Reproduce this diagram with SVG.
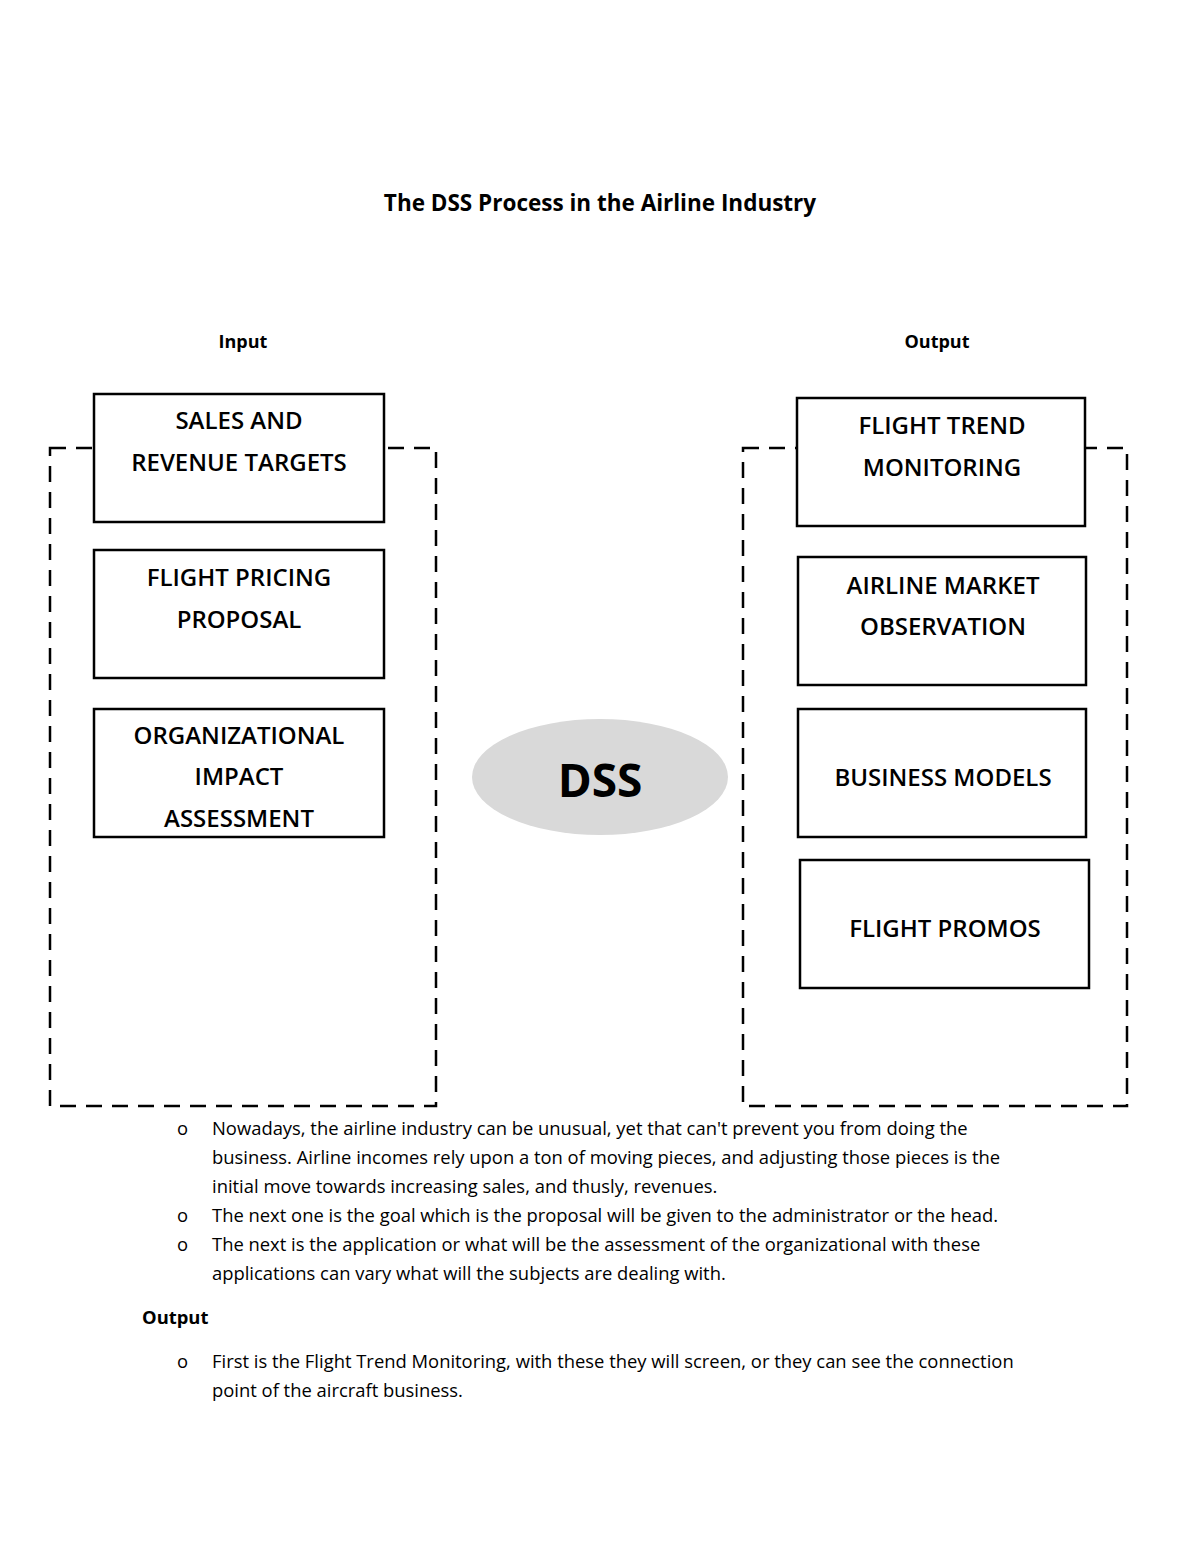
<svg xmlns="http://www.w3.org/2000/svg" width="1200" height="1553" viewBox="0 0 1200 1553">
<style>
text{font-family:"Open Sans","Liberation Sans",sans-serif;fill:#000}
.t{font-weight:bold;font-size:22.5px;text-anchor:middle}
.h{font-weight:bold;font-size:18px;text-anchor:middle}
.b{font-size:24px;font-weight:600;text-anchor:middle}
.p{font-size:18.4px}
.box{fill:#fff;stroke:#000;stroke-width:2.5}
.dash{fill:none;stroke:#000;stroke-width:2.5;stroke-dasharray:16 10}
</style>
<rect width="1200" height="1553" fill="#fff"/>
<text class="t" x="600" y="211">The DSS Process in the Airline Industry</text>
<text class="h" x="243" y="348">Input</text>
<text class="h" x="937" y="348">Output</text>
<g id="connectors">
<rect class="dash" x="50" y="448" width="386" height="658"/>
<rect class="dash" x="743" y="448" width="384" height="658"/>
</g>
<g id="n1"><rect class="box" x="94" y="394" width="290" height="128"/><text class="b" x="239" y="429">SALES AND</text><text class="b" x="239" y="471">REVENUE TARGETS</text></g>
<g id="n2"><rect class="box" x="94" y="550" width="290" height="128"/><text class="b" x="239" y="586">FLIGHT PRICING</text><text class="b" x="239" y="628">PROPOSAL</text></g>
<g id="n3"><rect class="box" x="94" y="709" width="290" height="128"/><text class="b" x="239" y="744">ORGANIZATIONAL</text><text class="b" x="239" y="785">IMPACT</text><text class="b" x="239" y="827">ASSESSMENT</text></g>
<g id="dss"><ellipse cx="600" cy="777" rx="128" ry="58" fill="#d9d9d9"/><text x="600" y="797" text-anchor="middle" font-weight="bold" font-size="46">DSS</text></g>
<g id="o1"><rect class="box" x="797" y="398" width="288" height="128"/><text class="b" x="942" y="434">FLIGHT TREND</text><text class="b" x="942" y="476">MONITORING</text></g>
<g id="o2"><rect class="box" x="798" y="557" width="288" height="128"/><text class="b" x="943" y="594">AIRLINE MARKET</text><text class="b" x="943" y="635">OBSERVATION</text></g>
<g id="o3"><rect class="box" x="798" y="709" width="288" height="128"/><text class="b" x="943" y="786">BUSINESS MODELS</text></g>
<g id="o4"><rect class="box" x="800" y="860" width="289" height="128"/><text class="b" x="945" y="937">FLIGHT PROMOS</text></g>
<g class="p">
<text class="p" x="177" y="1135">o</text>
<text class="p" x="212" y="1135">Nowadays, the airline industry can be unusual, yet that can't prevent you from doing the</text>
<text class="p" x="212" y="1164">business. Airline incomes rely upon a ton of moving pieces, and adjusting those pieces is the</text>
<text class="p" x="212" y="1193">initial move towards increasing sales, and thusly, revenues.</text>
<text class="p" x="177" y="1222">o</text>
<text class="p" x="212" y="1222">The next one is the goal which is the proposal will be given to the administrator or the head.</text>
<text class="p" x="177" y="1251">o</text>
<text class="p" x="212" y="1251">The next is the application or what will be the assessment of the organizational with these</text>
<text class="p" x="212" y="1280">applications can vary what will the subjects are dealing with.</text>
<text class="p" x="142" y="1324" font-weight="bold" font-size="18">Output</text>
<text class="p" x="177" y="1368">o</text>
<text class="p" x="212" y="1368">First is the Flight Trend Monitoring, with these they will screen, or they can see the connection</text>
<text class="p" x="212" y="1397">point of the aircraft business.</text>
</g>
</svg>
